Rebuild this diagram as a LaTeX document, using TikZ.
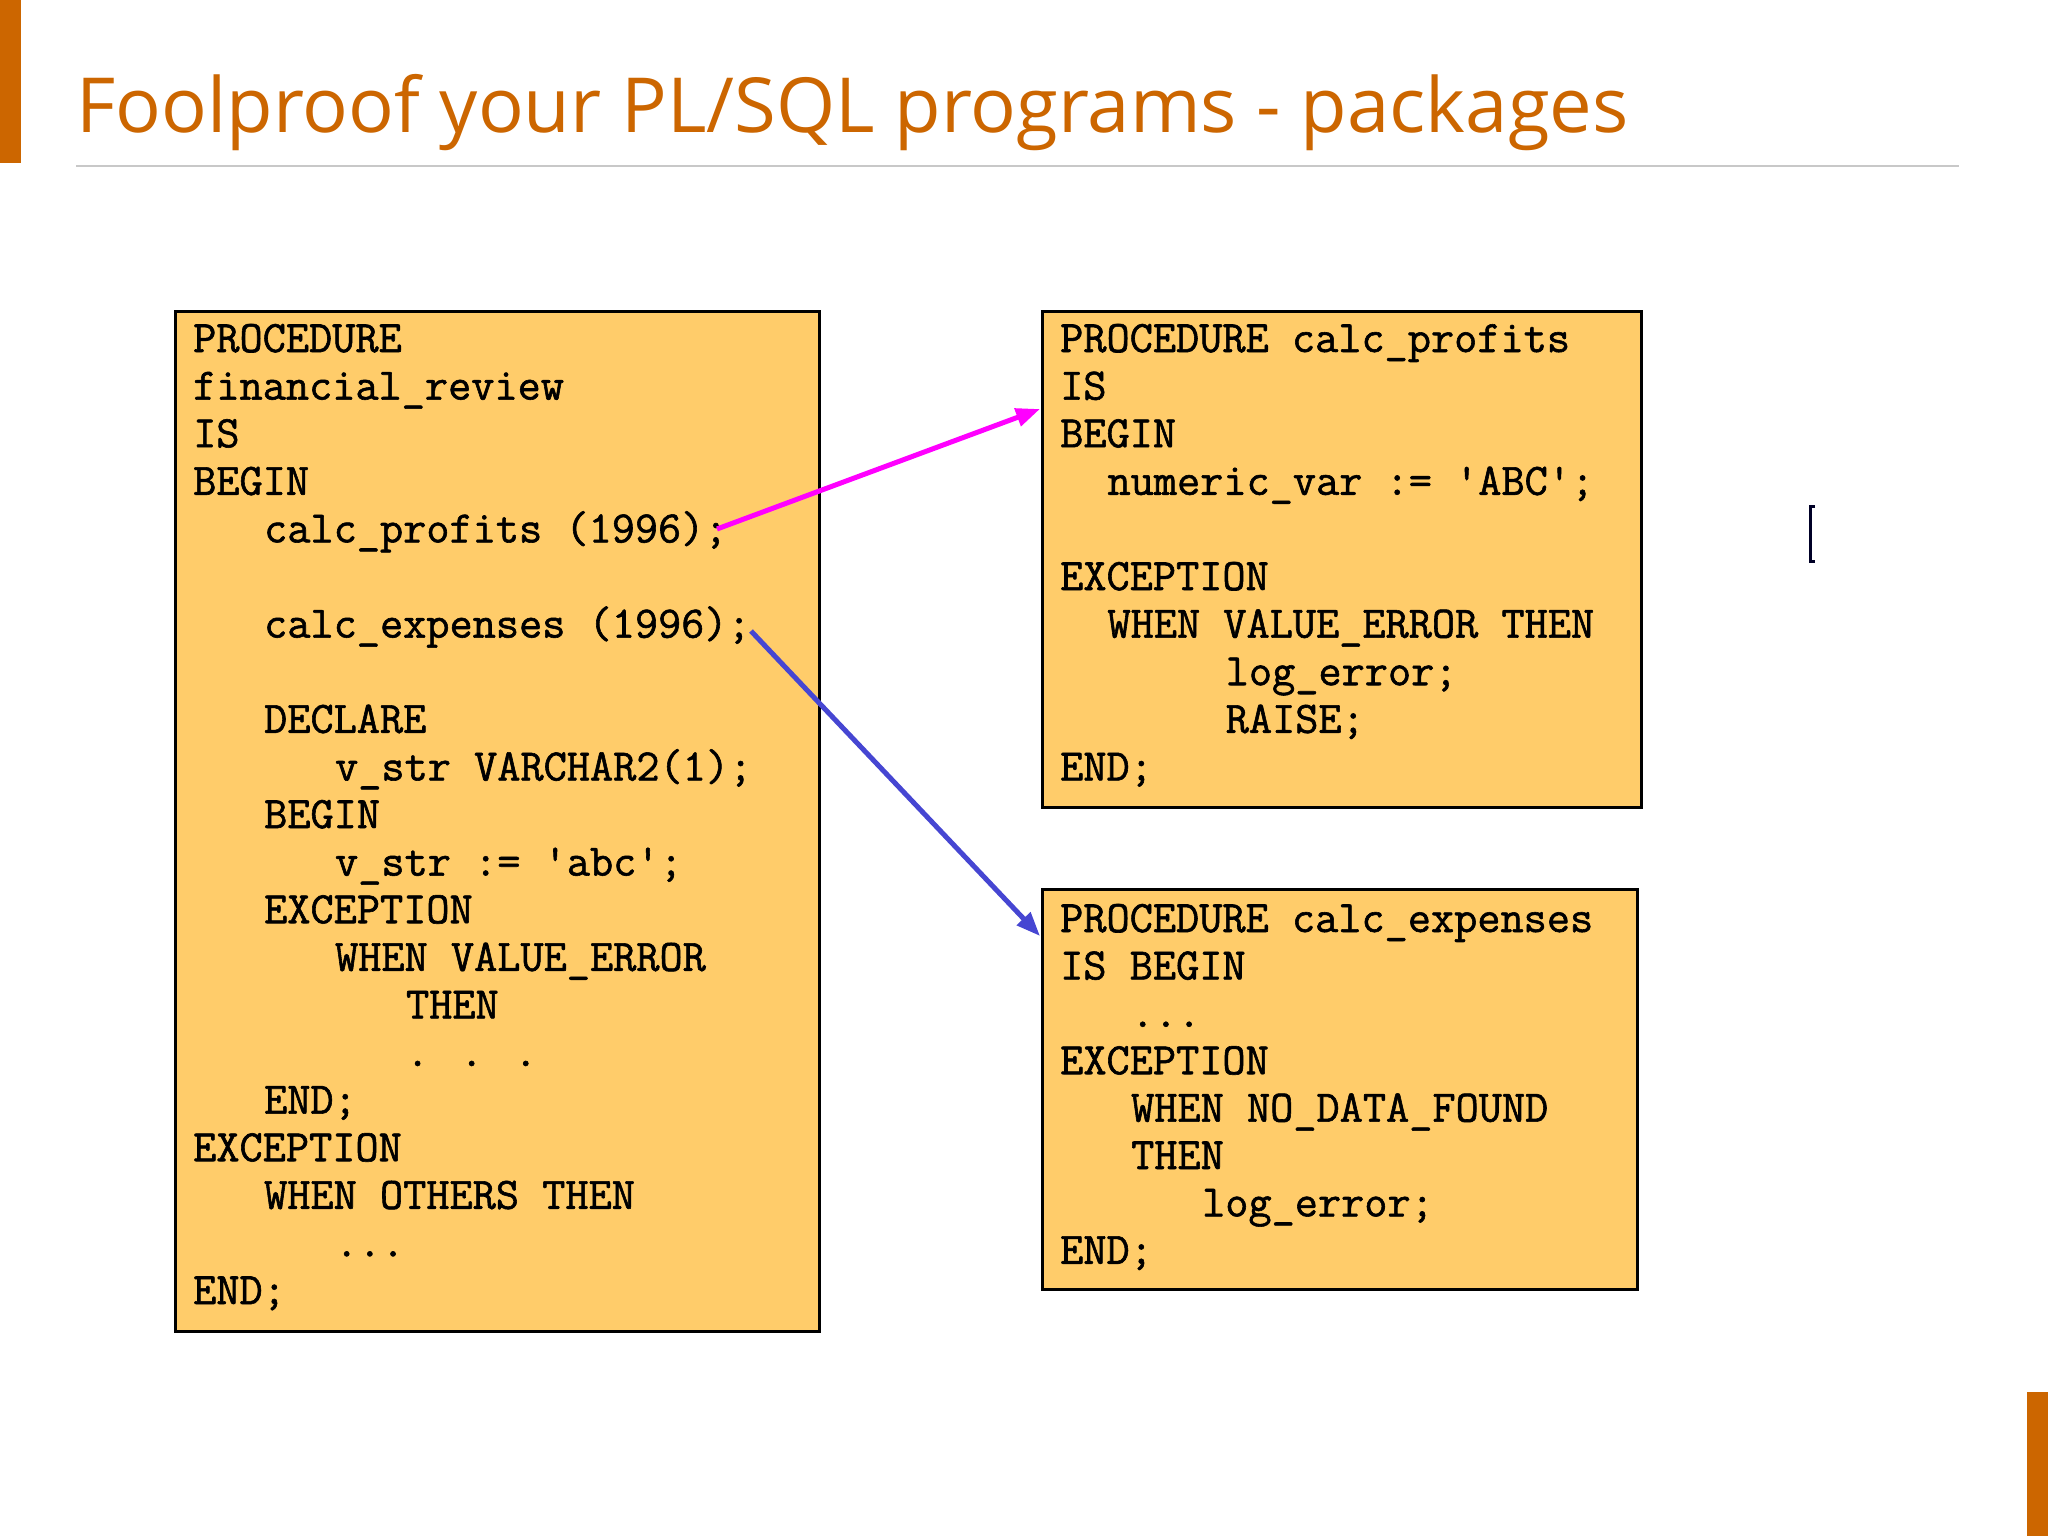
\documentclass[tikz,border=0pt]{standalone}
\usepackage{fontspec}
\setmainfont{Open Sans}
\newfontfamily\codefont{Latin Modern Mono}[FakeBold=1.3]
\usetikzlibrary{arrows.meta}
\definecolor{titleor}{HTML}{CC6600}
\definecolor{boxfill}{HTML}{FFCC6A}
\definecolor{arrmag}{HTML}{FF00FF}
\definecolor{arrblue}{HTML}{4646D2}
\definecolor{rulegray}{HTML}{C8C8C8}
\tikzset{
  codebox/.style={draw=black, line width=3pt, fill=boxfill, anchor=north west, inner sep=0pt},
  codetext/.style={anchor=base west, inner sep=0pt, font=\codefont\bfseries\fontsize{45}{47}\selectfont},
  callarrow/.style={line width=5pt, -{Triangle[length=24pt,width=18pt]}},
}
\newcommand\cw{23.65}
\begin{document}
\begin{tikzpicture}[x=1pt,y=-1pt]
\useasboundingbox (0,0) rectangle (2048,1536);
\fill[white] (0,0) rectangle (2048,1536);
% decorations
\fill[titleor] (0,0) rectangle (21,163);
\fill[titleor] (2027,1392) rectangle (2048,1536);
\node[anchor=base west, inner sep=0pt, text=titleor, font=\fontsize{76}{80}\selectfont] (title) at (76,132) {Foolproof your PL/SQL programs - packages};
\draw[rulegray, line width=1.5pt] (76,166) -- (1959,166);
% boxes
\node[codebox, minimum width=644, minimum height=1020] (fin) at (174,310) {};
\node[codebox, minimum width=599, minimum height=496] (prof) at (1041,310) {};
\node[codebox, minimum width=595, minimum height=400] (exp) at (1041,888) {};
% left box text
\foreach \k/\ind/\txt [count=\n] in {
  0/0/PROCEDURE,
  1/0/financial\_review,
  2/0/IS,
  3/0/BEGIN,
  4/3/{calc\_profits (1996);},
  6/3/{calc\_expenses (1996);},
  8/3/DECLARE,
  9/6/{v\_str VARCHAR2(1);},
  10/3/BEGIN,
  11/6/{v\_str := 'abc';},
  12/3/EXCEPTION,
  13/6/{WHEN VALUE\_ERROR},
  14/9/THEN,
  15/9/{. . .},
  16/3/END;,
  17/0/EXCEPTION,
  18/3/{WHEN OTHERS THEN},
  19/6/{...},
  20/0/END;}
  \node[codetext] (fin-\n) at (193+\ind*\cw, 352+\k*47.6) {\txt};
% right top text
\foreach \k/\ind/\txt [count=\n] in {
  0/0/{PROCEDURE calc\_profits},
  1/0/IS,
  2/0/BEGIN,
  3/2/{numeric\_var := 'ABC';},
  5/0/EXCEPTION,
  6/2/{WHEN VALUE\_ERROR THEN},
  7/7/{log\_error;},
  8/7/RAISE;,
  9/0/END;}
  \node[codetext] (prof-\n) at (1060+\ind*\cw, 352+\k*47.6) {\txt};
% right bottom text
\foreach \k/\ind/\txt [count=\n] in {
  0/0/{PROCEDURE calc\_expenses},
  1/0/{IS BEGIN},
  2/3/{...},
  3/0/EXCEPTION,
  4/3/{WHEN NO\_DATA\_FOUND},
  5/3/THEN,
  6/6/{log\_error;},
  7/0/END;}
  \node[codetext] (exp-\n) at (1060+\ind*\cw, 932+\k*47.4) {\txt};
% connectors
\coordinate (pstart) at (717,529);
\coordinate (pend) at (1040,409);
\coordinate (estart) at (751,631);
\coordinate (eend) at (1040,936);
\draw[callarrow, arrmag] (pstart) -- (pend);
\draw[callarrow, arrblue] (estart) -- (eend);
% text cursor
\draw[black!85!blue, line width=3pt] (1815,506) -- (1810,506) -- (1810,561) -- (1815,561);
\end{tikzpicture}
\end{document}
